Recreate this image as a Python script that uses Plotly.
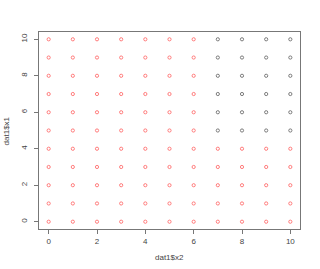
import plotly.graph_objects as go

x2_values = list(range(0, 11))
x1_values = list(range(0, 11))
# group: black when x2 >= 7 and x1 >= 5
black_x2 = [7, 8, 9, 10]
black_x1 = [5, 6, 7, 8, 9, 10]

red_x, red_y, blk_x, blk_y = [], [], [], []
for a in x2_values:
    for b in x1_values:
        if a in black_x2 and b in black_x1:
            blk_x.append(a); blk_y.append(b)
        else:
            red_x.append(a); red_y.append(b)

fig = go.Figure()
fig.add_trace(go.Scatter(x=red_x, y=red_y, mode="markers",
                         marker=dict(symbol="circle-open", size=3.2, color="rgb(255,110,110)",
                                     line=dict(width=0.9, color="rgb(255,110,110)"))))
fig.add_trace(go.Scatter(x=blk_x, y=blk_y, mode="markers",
                         marker=dict(symbol="circle-open", size=3.2, color="rgb(110,110,110)",
                                     line=dict(width=0.9, color="rgb(110,110,110)"))))

font = dict(family="Liberation Sans, Arial, sans-serif", size=8, color="#444")
axis_common = dict(range=[-0.4, 10.4], showgrid=False, zeroline=False, showline=True,
                   linecolor="#777", linewidth=1, mirror=True, ticks="outside", ticklen=4,
                   tickcolor="#777", tickwidth=1, tickvals=[0, 2, 4, 6, 8, 10],
                   tickfont=font)
fig.update_layout(
    width=320, height=269, showlegend=False,
    margin=dict(l=38.5, r=20.3, t=32.3, b=40),
    paper_bgcolor="white", plot_bgcolor="white",
    xaxis=dict(**axis_common),
    yaxis=dict(**axis_common, tickangle=-90, ticklabelstandoff=4),
    annotations=[
        dict(text="dat1$x2", xref="paper", yref="paper", x=0.5, y=-0.145,
             showarrow=False, font=font, xanchor="center", yanchor="middle"),
        dict(text="dat1$x1", xref="paper", yref="paper", x=-0.123, y=0.5,
             showarrow=False, font=font, textangle=-90, xanchor="center", yanchor="middle"),
    ],
)
fig.write_html("out.html")
